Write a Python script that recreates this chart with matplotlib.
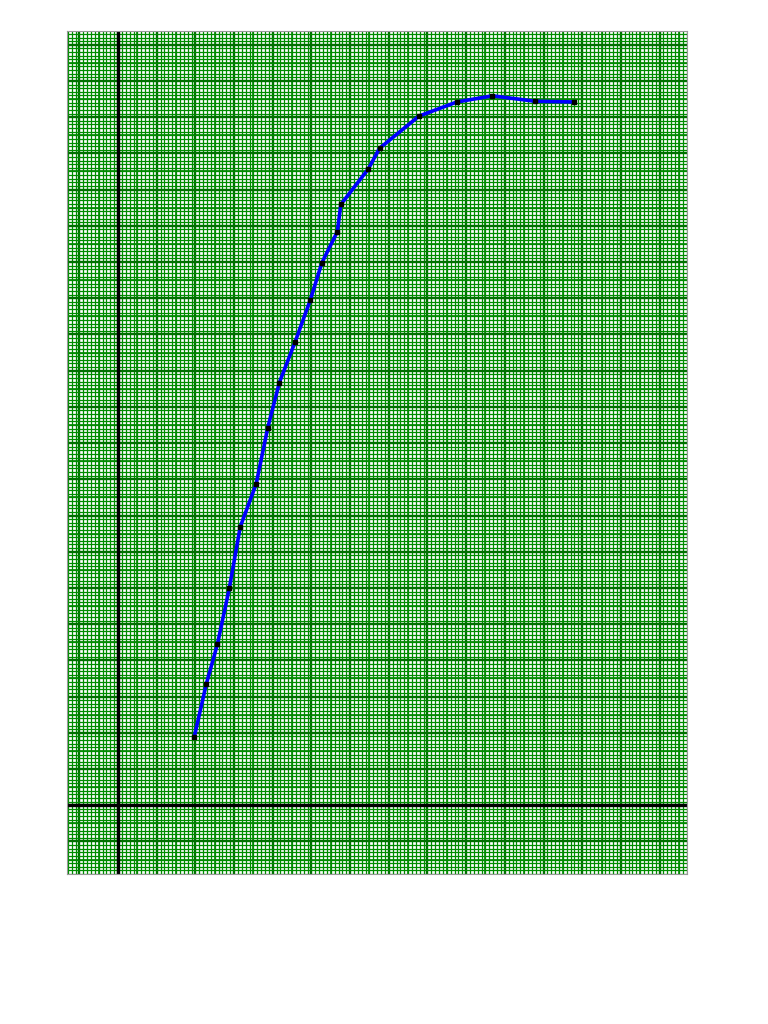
import numpy as np
import matplotlib.pyplot as plt
from matplotlib.ticker import MultipleLocator

# readings taken off the graph paper (major square = 1 unit)
x_vals = [1.97, 2.28, 2.57, 2.88, 3.16, 3.57, 3.87, 4.17, 4.58, 4.97,
          5.27, 5.67, 5.76, 6.47, 6.76, 7.78, 8.76, 9.68, 10.78, 11.79]
y_vals = [1.88, 3.34, 4.45, 6.01, 7.69, 8.87, 10.42, 11.67, 12.80, 13.95,
          14.98, 15.84, 16.59, 17.57, 18.14, 19.03, 19.42, 19.59, 19.44, 19.42]

fig = plt.figure(figsize=(7.68, 10.24), dpi=100)
ax = fig.add_axes([67/768, 150/1024, 620/768, 843/1024])

ax.set_xlim(-1.32, 14.71)
ax.set_ylim(-1.9, 21.38)

# graph paper
ax.xaxis.set_major_locator(MultipleLocator(1))
ax.yaxis.set_major_locator(MultipleLocator(1))
ax.xaxis.set_minor_locator(MultipleLocator(0.1))
ax.yaxis.set_minor_locator(MultipleLocator(0.1))
ax.grid(which='minor', color='#008c00', lw=0.9)
ax.grid(which='major', color='#007000', lw=1.7)
for v in np.arange(-1.5, 15, 1):
    ax.axvline(v, color='#008000', lw=1.2, zorder=0.5)
for v in np.arange(-1.5, 22, 1):
    ax.axhline(v, color='#008000', lw=1.2, zorder=0.5)
ax.set_axisbelow(True)
ax.tick_params(which='both', length=0, labelbottom=False, labelleft=False)
for s in ax.spines.values():
    s.set_color('#999999')
    s.set_linewidth(0.8)

ax.axhline(0, color='black', lw=2.4, zorder=2)
ax.axvline(0, color='black', lw=2.4, zorder=2)

ax.plot(x_vals, y_vals, color='#0000ff', lw=2.6, marker='s', ms=2.5,
        mfc='black', mec='black', zorder=3)

fig.savefig('out.png', dpi=100)
